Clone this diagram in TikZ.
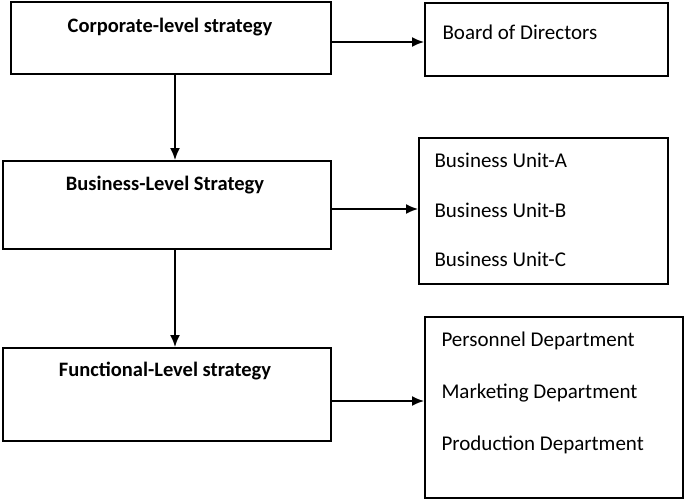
\documentclass[tikz,border=0pt]{standalone}
\usepackage{fontspec}
\setmainfont{Carlito}
\usetikzlibrary{arrows.meta}
\begin{document}
\begin{tikzpicture}[x=1pt,y=-1pt,
  box/.style={draw,line width=1.6pt,anchor=north west,inner sep=0pt},
  level/.style={font=\fontsize{20.5}{24}\selectfont\bfseries},
  item/.style={font=\fontsize{21}{24}\selectfont,anchor=west},
  link/.style={-{Latex[length=12pt,width=10pt]},line width=1.6pt}]
  \useasboundingbox (0,0) rectangle (685,499);

  % Levels
  \node[box,minimum width=320,minimum height=72] (corp) at (10,1) {};
  \node[level] at (170,27) {Corporate-level strategy};
  \node[box,minimum width=328,minimum height=88] (bus) at (2,160) {};
  \node[level] at (165,185) {Business-Level Strategy};
  \node[box,minimum width=328,minimum height=93] (func) at (2,347) {};
  \node[level] at (165,371) {Functional-Level strategy};

  % Units
  \node[box,minimum width=243,minimum height=73] (board) at (424,2) {};
  \node[item] at (439,32) {Board of Directors};
  \node[box,minimum width=249,minimum height=146] (units) at (418,137) {};
  \foreach \y/\t in {160/A,210/B,259/C}
    \node[item] at (431,\y) {Business Unit-\t};
  \node[box,minimum width=258,minimum height=181] (depts) at (424,316) {};
  \foreach \y/\t in {341/Personnel,393/Marketing,445/Production}
    \node[item] at (438,\y) {\t{} Department};

  % Arrows
  \draw[link] (175,73) -- (175,160);
  \draw[link] (175,248) -- (175,347);
  \draw[link] (330,42) -- (board.west |- 0,42);
  \draw[link] (330,209) -- (units.west |- 0,209);
  \draw[link] (330,401) -- (depts.west |- 0,401);
\end{tikzpicture}
\end{document}
